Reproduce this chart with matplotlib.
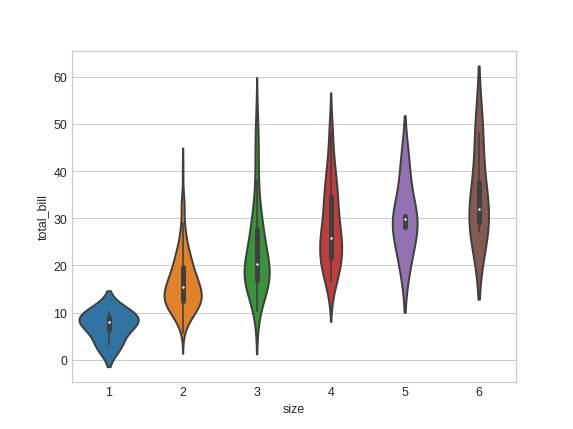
import matplotlib
matplotlib.use("Agg")
import matplotlib.pyplot as plt
import seaborn as sns
import pandas as pd

# total_bill values grouped by party size
size_1 = [3.07, 10.07, 7.25, 8.58]
size_2 = [
    16.99, 23.68, 8.77, 15.04, 14.78, 10.27, 15.42, 14.83, 21.58, 17.92,
    20.29, 15.77, 19.82, 13.37, 12.69, 21.70, 19.65, 9.55, 15.06, 17.78,
    17.46, 13.94, 9.68, 18.29, 22.23, 18.04, 12.54, 10.29, 9.94, 19.49,
    26.41, 11.24, 20.29, 13.81, 11.02, 16.45, 20.23, 15.01, 12.02, 26.86,
    25.28, 14.73, 10.51, 17.92, 22.76, 17.29, 19.44, 16.66, 32.68, 15.98,
    13.03, 18.28, 24.71, 21.16, 28.97, 22.49, 5.75, 16.32, 22.75, 27.28,
    12.03, 21.01, 12.46, 11.35, 15.38, 22.42, 20.92, 15.36, 20.49, 25.21,
    18.24, 14.31, 14.00, 23.95, 17.31, 10.65, 12.43, 11.69, 13.42, 14.26,
    15.95, 12.48, 8.52, 14.52, 11.38, 19.08, 20.27, 11.17, 12.26, 18.26,
    8.51, 10.33, 14.15, 16.00, 13.16, 17.47, 16.43, 8.35, 11.87, 9.78,
    7.51, 14.07, 13.13, 13.39, 12.66, 13.81, 17.51, 20.76, 10.59, 10.63,
    15.81, 7.25, 31.85, 16.82, 32.90, 17.89, 14.48, 9.60, 34.63, 23.33,
    40.55, 15.69, 19.81, 28.44, 15.48, 16.58, 7.56, 10.34, 13.00, 13.51,
    12.74, 13.00, 16.40, 24.27, 12.76, 13.27, 12.90, 11.59, 7.74, 12.16,
    13.42, 13.42, 16.27, 10.09, 13.28, 22.12, 11.61, 10.77, 15.53, 10.07,
    12.60, 32.83, 27.18, 22.67, 17.82, 18.78,
]
size_3 = [
    10.34, 21.01, 10.33, 16.29, 16.97, 20.65, 24.06, 16.31, 16.93, 18.69,
    31.27, 16.04, 28.55, 17.59, 20.08, 17.07, 44.30, 38.07, 25.71, 22.82,
    18.64, 17.26, 16.21, 24.52, 50.81, 45.35, 20.90, 18.15, 23.10, 18.71,
    16.47, 26.59, 30.06, 28.17, 15.98, 15.69, 35.83, 29.03,
]
size_4 = [
    24.59, 25.29, 26.88, 35.26, 18.43, 39.42, 17.81, 18.35, 20.69, 30.40,
    32.40, 34.81, 25.56, 38.01, 48.27, 18.29, 27.20, 34.83, 40.17, 29.93,
    24.08, 24.55, 19.77, 25.00, 16.49, 21.50, 31.71, 34.65, 23.17, 43.11,
    20.53, 38.73, 25.89, 48.33, 30.14, 20.45, 24.01,
]
size_5 = [41.19, 29.85, 20.69, 30.46, 28.15]
size_6 = [29.80, 34.30, 27.05, 48.17]

groups = {1: size_1, 2: size_2, 3: size_3, 4: size_4, 5: size_5, 6: size_6}
tips = pd.DataFrame(
    [(s, v) for s, vals in groups.items() for v in vals],
    columns=["size", "total_bill"],
)

DPI = 573 / 6.4

plt.style.use("seaborn-v0_8-whitegrid")
fig, ax = plt.subplots(figsize=(6.4, 4.8), dpi=DPI)

# no hue here, so all violins share one area normalisation
sns.violinplot(data=tips, x="size", y="total_bill", linewidth=1.6,
               inner_kws=dict(box_width=4.0, whis_width=1.3, marker="o"),
               ax=ax)

colors = sns.color_palette("tab10", len(groups), desat=0.75)
for coll, c in zip(ax.collections, colors):
    coll.set_facecolor(c)

# small white median dots
for line in ax.lines:
    if line.get_marker() == "o":
        line.set_markersize(2.6)
        line.set_markeredgewidth(0.6)
        line.set_markeredgecolor("#3f3f3f")
        line.set_markerfacecolor("white")

fig.savefig("out.png", dpi=DPI)
